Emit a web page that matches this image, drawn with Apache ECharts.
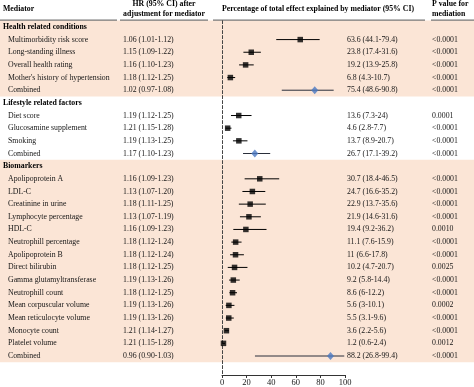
<!DOCTYPE html>
<html>
<head>
<meta charset="utf-8">
<script src="https://cdn.jsdelivr.net/npm/echarts@6/dist/echarts.min.js"></script>
<style>html,body{margin:0;padding:0;background:#fff}#c{width:474px;height:387px}</style>
</head>
<body>
<div id="c"></div>
<script>
// ---- data ----
const sectionHeaders = ['Health related conditions', 'Lifestyle related factors', 'Biomarkers'];
const mediators = [
  'Health related conditions',
  'Multimorbidity risk score', 'Long-standing illness', 'Overall health rating', "Mother's history of hypertension", 'Combined',
  'Lifestyle related factors',
  'Diet score', 'Glucosamine supplement', 'Smoking', 'Combined',
  'Biomarkers',
  'Apolipoprotein A', 'LDL-C', 'Creatinine in urine', 'Lymphocyte percentage', 'HDL-C', 'Neutrophill percentage',
  'Apolipoprotein B', 'Direct bilirubin', 'Gamma glutamyltransferase', 'Neutrophill count', 'Mean corpuscular volume',
  'Mean reticulocyte volume', 'Monocyte count', 'Platelet volume', 'Combined'
];
const hrEst  = [null, 1.06, 1.15, 1.16, 1.18, 1.02, null, 1.19, 1.21, 1.19, 1.17, null, 1.16, 1.13, 1.18, 1.13, 1.16, 1.18, 1.18, 1.18, 1.19, 1.18, 1.19, 1.19, 1.21, 1.21, 0.96];
const hrLow  = [null, 1.01, 1.09, 1.10, 1.12, 0.97, null, 1.12, 1.15, 1.13, 1.10, null, 1.09, 1.07, 1.11, 1.07, 1.09, 1.12, 1.12, 1.12, 1.13, 1.12, 1.13, 1.13, 1.14, 1.15, 0.90];
const hrHigh = [null, 1.12, 1.22, 1.23, 1.25, 1.08, null, 1.25, 1.28, 1.25, 1.23, null, 1.23, 1.20, 1.25, 1.19, 1.23, 1.24, 1.24, 1.25, 1.26, 1.25, 1.26, 1.26, 1.27, 1.28, 1.03];
const pctEst  = [null, 63.6, 23.8, 19.2, 6.8, 75.4, null, 13.6, 4.6, 13.7, 26.7, null, 30.7, 24.7, 22.9, 21.9, 19.4, 11.1, 11, 10.2, 9.2, 8.6, 5.6, 5.5, 3.6, 1.2, 88.2];
const pctLow  = [null, 44.1, 17.4, 13.9, 4.3, 48.6, null, 7.3, 2.8, 8.9, 17.1, null, 18.4, 16.6, 13.7, 14.6, 9.2, 7.6, 6.6, 4.7, 5.8, 6, 3, 3.1, 2.2, 0.6, 26.8];
const pctHigh = [null, 79.4, 31.6, 25.8, 10.7, 90.8, null, 24, 7.7, 20.7, 39.2, null, 46.5, 35.2, 35.6, 31.6, 36.2, 15.9, 17.8, 20.7, 14.4, 12.2, 10.1, 9.6, 5.6, 2.4, 99.4];
const pValues = ['', '<0.0001', '<0.0001', '<0.0001', '<0.0001', '<0.0001', '', '0.0001', '<0.0001', '<0.0001', '<0.0001', '',
  '<0.0001', '<0.0001', '<0.0001', '<0.0001', '0.0010', '<0.0001', '<0.0001', '0.0025', '<0.0001', '<0.0001', '0.0002', '<0.0001', '<0.0001', '0.0012', '<0.0001'];
const xTicks = [0, 20, 40, 60, 80, 100];
const shadedSections = [[0, 5], [11, 26]];

// ---- build ----
const FONT = '"Liberation Serif", "Times New Roman", serif';
const FS = 7.8;
const TXT = '#161616';
const nRows = mediators.length;
const cats = mediators.map((m, i) => String(i)).concat(['pad']);
const isHeader = i => sectionHeaders.includes(mediators[i]) && hrEst[i] === null;
const isCombined = i => mediators[i] === 'Combined';

const squares = [], diamonds = [], ciRows = [];
for (let i = 0; i < nRows; i++) {
  if (pctEst[i] === null) continue;
  if (isCombined(i)) diamonds.push([pctEst[i], i]); else squares.push([pctEst[i], i]);
  ciRows.push([pctLow[i], pctHigh[i], i, isCombined(i) ? 1 : 0]);
}
const hrText = i => hrEst[i] === null ? '' : hrEst[i].toFixed(2) + ' (' + hrLow[i].toFixed(2) + '-' + hrHigh[i].toFixed(2) + ')';
const pctText = i => pctEst[i] === null ? '' : pctEst[i] + ' (' + pctLow[i] + '-' + pctHigh[i] + ')';

const textAxis = (pos, margin, fmt) => ({
  type: 'category', data: cats, inverse: true, position: pos,
  axisLine: { show: false }, axisTick: { show: false }, splitLine: { show: false },
  axisLabel: { interval: 0, hideOverlap: false, margin: margin, align: 'left', fontFamily: FONT, fontSize: FS, color: TXT,
    formatter: (v, idx) => idx < nRows ? fmt(idx) : '' }
});

const chart = echarts.init(document.getElementById('c'), null, { renderer: 'canvas' });
const grid = { left: 222, right: 129, top: 20.6, bottom: 10 };
chart.setOption({
  animation: false,
  backgroundColor: '#fff',
  grid: grid,
  xAxis: {
    type: 'value', min: 0, max: 100, interval: 20,
    axisLine: { show: true, lineStyle: { color: '#333', width: 1 } },
    axisTick: { show: true, length: 3, lineStyle: { color: '#333' } },
    splitLine: { show: false },
    axisLabel: { margin: 3, fontFamily: FONT, fontSize: 8.5, color: TXT, formatter: v => xTicks.includes(v) ? String(v) : '' }
  },
  yAxis: [
    {
      type: 'category', data: cats, inverse: true, position: 'left',
      axisLine: { show: true, lineStyle: { color: '#444', type: [3, 2], width: 1 } },
      axisTick: { show: false }, splitLine: { show: false },
      axisLabel: { interval: 0, hideOverlap: false, margin: 219, align: 'left', fontFamily: FONT, fontSize: FS, color: TXT,
        formatter: (v, idx) => idx >= nRows ? '' : (isHeader(idx) ? '{h|' + mediators[idx] + '}' : '{n|' + mediators[idx] + '}'),
        rich: {
          h: { fontFamily: FONT, fontSize: FS, fontWeight: 'bold', color: '#000' },
          n: { fontFamily: FONT, fontSize: FS, color: TXT, padding: [0, 0, 0, 5] }
        } }
    },
    textAxis('left', 99, hrText),
    textAxis('right', 2, pctText),
    textAxis('right', 87, i => pValues[i])
  ],
  series: [
    {
      type: 'custom', yAxisIndex: 0, z: 2,
      data: ciRows,
      renderItem: (params, api) => {
        const a = api.coord([api.value(0), api.value(2)]);
        const b = api.coord([api.value(1), api.value(2)]);
        return { type: 'line', shape: { x1: a[0], y1: a[1], x2: b[0], y2: b[1] },
          style: { stroke: api.value(3) ? '#2a2f3a' : '#000', lineWidth: 1 } };
      }
    },
    { type: 'scatter', yAxisIndex: 0, z: 3, symbol: 'rect', symbolSize: 5.5, itemStyle: { color: '#000' }, data: squares },
    { type: 'scatter', yAxisIndex: 0, z: 3, symbol: 'diamond', symbolSize: [7, 8], itemStyle: { color: '#4a78c2' }, data: diamonds }
  ]
});

// backgrounds, header text and rules positioned via the axis scales
const yc = i => chart.convertToPixel({ yAxisIndex: 0 }, String(i));
const band = yc(1) - yc(0);
const graphics = [];
shadedSections.forEach(([s, e]) => {
  const y0 = yc(s) - band / 2, y1 = yc(e) + band / 2;
  graphics.push({ type: 'rect', z: -10, silent: true, shape: { x: 0, y: y0, width: 474, height: y1 - y0 }, style: { fill: '#fbe5d6' } });
});
const ruleY = yc(0) - band / 2 - 0.5;
[[0, 117], [120, 208], [213, 425], [431, 474]].forEach(([x1, x2]) => {
  graphics.push({ type: 'line', z: 5, silent: true, shape: { x1: x1, y1: ruleY, x2: x2, y2: ruleY }, style: { stroke: '#555', lineWidth: 1 } });
});
const hdr = (text, x, y, align) => ({ type: 'text', z: 5, silent: true, x: x, y: y,
  style: { text: text, fontFamily: FONT, fontSize: FS, fontWeight: 'bold', fill: '#000', align: align || 'left', verticalAlign: 'middle' } });
graphics.push(hdr('Mediator', 3, 8.5));
graphics.push(hdr('HR (95% CI) after', 164, 4, 'center'));
graphics.push(hdr('adjustment for mediator', 164, 14, 'center'));
graphics.push(hdr('Percentage of total effect explained by mediator (95% CI)', 318, 8.5, 'center'));
graphics.push(hdr('P value for', 432, 4));
graphics.push(hdr('mediation', 432, 14));
chart.setOption({ graphic: graphics });
</script>
</body>
</html>
